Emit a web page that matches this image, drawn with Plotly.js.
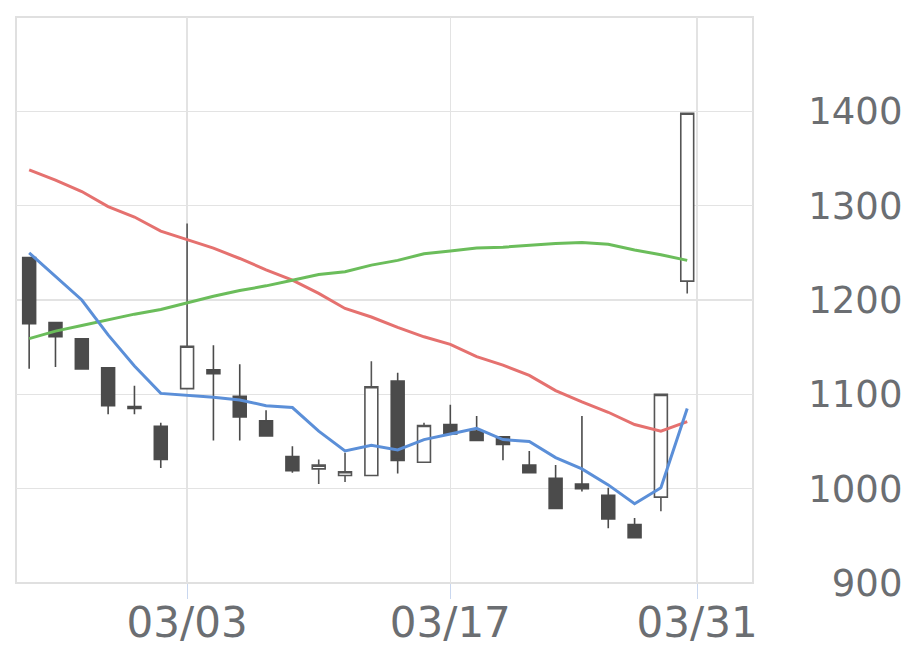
<!DOCTYPE html>
<html>
<head>
<meta charset="utf-8">
<script src="https://cdn.plot.ly/plotly-3.0.1.min.js"></script>
<style>html,body{margin:0;padding:0;background:#fff;}#chart{width:920px;height:669px;}</style>
</head>
<body>
<div id="chart"></div>
<script>
// Trading days (2020)
var dates = ['2020-02-21','2020-02-25','2020-02-26','2020-02-27','2020-02-28','2020-03-02',
  '2020-03-03','2020-03-04','2020-03-05','2020-03-06','2020-03-09','2020-03-10','2020-03-11',
  '2020-03-12','2020-03-13','2020-03-16','2020-03-17','2020-03-18','2020-03-19','2020-03-23',
  '2020-03-24','2020-03-25','2020-03-26','2020-03-27','2020-03-30','2020-03-31'];
var openP  = [1245,1176,1159,1128,1087,1066,1106,1126,1098,1072,1034,1021,1014,1014,1114,1028,1068,1061,1055,1025,1011,1005,993,962,991,1220];
var highP  = [1245,1176,1159,1128,1109,1070,1281,1152,1132,1083,1045,1031,1038,1135,1123,1070,1089,1077,1055,1040,1025,1077,1001,969,1100,1398];
var lowP   = [1127,1129,1127,1079,1079,1022,1106,1051,1051,1056,1017,1005,1007,1014,1016,1028,1058,1051,1030,1017,979,997,958,948,976,1207];
var closeP = [1175,1161,1127,1088,1085,1031,1151,1122,1076,1056,1019,1025,1018,1108,1030,1067,1058,1051,1047,1017,979,1000,968,948,1100,1398];
// Moving averages
var ma5  = [1250,1225,1200,1163,1130,1101,1099,1097,1094,1088,1086,1061,1040,1046,1041,1052,1058,1064,1052,1050,1033,1021,1004,984,1001,1085];
var ma25 = [1338,1327,1315,1299,1288,1273,1264,1255,1244,1232,1221,1207,1191,1182,1171,1161,1153,1140,1131,1120,1104,1092,1081,1068,1061,1071];
var ma75 = [1159,1167,1173,1179,1185,1190,1197,1204,1210,1215,1221,1227,1230,1237,1242,1249,1252,1255,1256,1258,1260,1261,1259,1253,1248,1242];
// Axis ticks
var xTickVals = ['2020-03-03','2020-03-17','2020-03-31 09:00'];
var xTickText = ['03/03','03/17','03/31'];
var yTickVals = [900,1000,1100,1200,1300,1400];
var holidays = ['2020-02-24','2020-03-20'];

var dark = '#4b4b4b';
var traces = [
  {type:'candlestick', x:dates, open:openP, high:highP, low:lowP, close:closeP,
   increasing:{line:{color:'#555555', width:1.6}, fillcolor:'#ffffff'},
   decreasing:{line:{color:dark, width:1.6}, fillcolor:dark},
   whiskerwidth:0, hoverinfo:'skip', showlegend:false},
  {type:'scatter', mode:'lines', x:dates, y:ma25, line:{color:'#e5716f', width:3}, hoverinfo:'skip'},
  {type:'scatter', mode:'lines', x:dates, y:ma75, line:{color:'#6bbd5b', width:3}, hoverinfo:'skip'},
  {type:'scatter', mode:'lines', x:dates, y:ma5,  line:{color:'#5b8fd8', width:3}, hoverinfo:'skip'}
];

var layout = {
  width:920, height:669,
  margin:{l:16, r:0, t:17, b:86, pad:0},
  paper_bgcolor:'#ffffff', plot_bgcolor:'#ffffff',
  showlegend:false,
  font:{family:'DejaVu Sans, sans-serif', color:'#6b6e72'},
  xaxis:{
    type:'date', domain:[0, 0.8153],
    range:['2020-02-20 12:00','2020-04-02 12:00'],
    rangebreaks:[{bounds:['sat','mon']},{values:holidays}],
    tickmode:'array', tickvals:xTickVals, ticktext:xTickText,
    ticks:'outside', ticklen:15, tickwidth:1, tickcolor:'#c9d7ef',
    ticklabelstandoff:-12,
    showgrid:true, gridcolor:'#e3e3e3', gridwidth:1.5,
    showline:false, zeroline:false,
    tickfont:{size:42, color:'#6b6e72'},
    rangeslider:{visible:false}, fixedrange:true
  },
  yaxis:{
    range:[900,1500], tickmode:'array', tickvals:yTickVals,
    side:'left', anchor:'free', position:0.9806,
    showgrid:true, gridcolor:'#e3e3e3', gridwidth:1.5,
    showline:false, zeroline:false, ticks:'',
    tickfont:{size:37, color:'#6b6e72'}, fixedrange:true
  },
  shapes:[{type:'rect', xref:'x domain', yref:'y domain', x0:0, x1:1, y0:0, y1:1,
           line:{color:'#e0e0e0', width:2}, layer:'below'}]
};

Plotly.newPlot('chart', traces, layout, {displayModeBar:false, staticPlot:true});
</script>
</body>
</html>
